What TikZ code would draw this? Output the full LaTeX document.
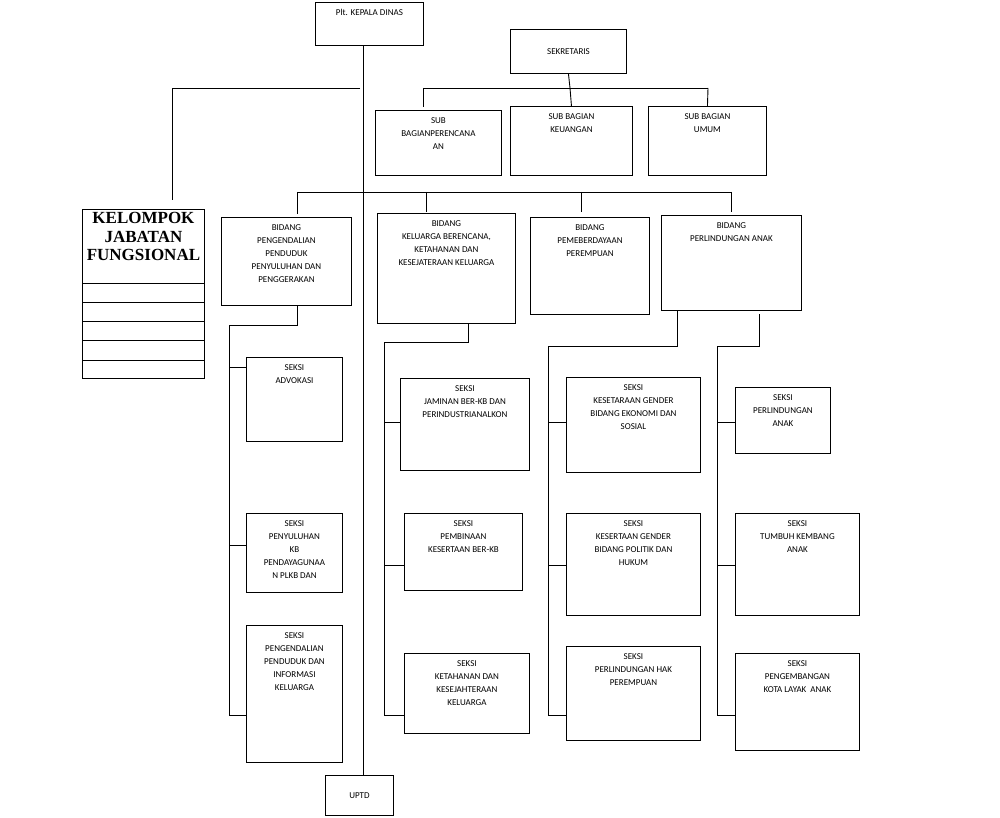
\documentclass[tikz,border=0pt]{standalone}
\usepackage{fontspec}
\setmainfont{Carlito}
\newfontfamily\tnr{Liberation Serif}
\begin{document}
\begin{tikzpicture}[x=1pt,y=-1pt,line width=0.9pt,
  txt/.style={anchor=north,align=center,font=\fontsize{9}{13}\selectfont,inner sep=0pt}]
\useasboundingbox (0,0) rectangle (1000,818);
\newcommand\bx[6]{\node[draw,inner sep=0pt,anchor=north west,minimum width=#4-#2,minimum height=#5-#3] (#1) at (#2,#3) {};
  \node[txt] (#1-t) at ([yshift=-7pt]#1.north) {#6};}
\bx{kd}{315}{2}{423}{45}{Plt. KEPALA DINAS}
\bx{uptd}{325}{775}{393}{815}{}
\node[font=\fontsize{9}{13}\selectfont] at (uptd.center) {UPTD};
\bx{sek}{510}{29}{626}{73}{}
\node[font=\fontsize{9}{13}\selectfont] at (sek.center) {SEKRETARIS};
\bx{sp}{375}{110}{501}{175}{SUB\\BAGIANPERENCANA\\AN}
\bx{sk}{510}{106}{632}{175}{SUB BAGIAN\\KEUANGAN}
\bx{su}{648}{106}{766}{175}{SUB BAGIAN\\UMUM}
\node[draw,inner sep=0pt,anchor=north west,minimum width=122,minimum height=169] (kjf) at (82,209) {};
\node[anchor=north,align=center,font=\tnr\bfseries\fontsize{17}{18.5}\selectfont,inner sep=0pt] at ([yshift=-3pt]kjf.north) {KELOMPOK\\JABATAN\\FUNGSIONAL};
\foreach \y in {283,302,321,340,360} \draw (82,\y) -- (204,\y);
\bx{b1}{221}{217}{351}{305}{BIDANG\\PENGENDALIAN\\PENDUDUK\\PENYULUHAN DAN\\PENGGERAKAN}
\bx{b2}{377}{213}{515}{323}{BIDANG\\KELUARGA BERENCANA,\\KETAHANAN DAN\\KESEJATERAAN KELUARGA}
\bx{b3}{530}{217}{649}{314}{BIDANG\\PEMEBERDAYAAN\\PEREMPUAN}
\bx{b4}{661}{215}{801}{310}{BIDANG\\PERLINDUNGAN ANAK}
\bx{s11}{246}{357}{342}{441}{SEKSI\\ADVOKASI}
\bx{s12}{246}{513}{342}{592}{SEKSI\\PENYULUHAN\\KB\\PENDAYAGUNAA\\N PLKB DAN}
\bx{s13}{246}{625}{342}{762}{SEKSI\\PENGENDALIAN\\PENDUDUK DAN\\INFORMASI\\KELUARGA}
\bx{s21}{400}{378}{529}{470}{SEKSI\\JAMINAN BER-KB DAN\\PERINDUSTRIANALKON}
\bx{s22}{404}{513}{522}{590}{SEKSI\\PEMBINAAN\\KESERTAAN BER-KB}
\bx{s23}{404}{653}{529}{733}{SEKSI\\KETAHANAN DAN\\KESEJAHTERAAN\\KELUARGA}
\bx{s41}{566}{377}{700}{472}{SEKSI\\KESETARAAN GENDER\\BIDANG EKONOMI DAN\\SOSIAL}
\bx{s42}{566}{513}{700}{615}{SEKSI\\KESERTAAN GENDER\\BIDANG POLITIK DAN\\HUKUM}
\bx{s43}{566}{646}{700}{740}{SEKSI\\PERLINDUNGAN HAK\\PEREMPUAN}
\bx{s51}{735}{387}{830}{453}{SEKSI\\PERLINDUNGAN\\ANAK}
\bx{s52}{735}{513}{859}{615}{SEKSI\\TUMBUH KEMBANG\\ANAK}
\bx{s53}{735}{653}{859}{750}{SEKSI\\PENGEMBANGAN\\KOTA LAYAK\ \ ANAK}
% main
\draw (kd.south) ++(-6,0) coordinate (m0) -- (m0 |- uptd.north);
\draw (360,88) -| (172,200);
\draw (sek.south) -- (570,88);
\draw (423,88) -- (708,88);
\draw (423,88) -- (423,107); \draw (570,88) -- (sk.north); \draw (708,88) -- (su.north);
\draw (297,192) -- (731,192);
\draw (297,192) -- (297,214); \draw (426,192) -- (426,212); \draw (581,192) -- (581,212); \draw (731,192) -- (731,212);
% bidang 1
\draw (297,305) -- (297,325) -| (229,715);
\draw (229,367) -- (s11.west |- 0,367); \draw (229,545) -- (246,545); \draw (229,715) -- (246,715);
% bidang 2
\draw (468,323) -- (468,342) -| (384,715);
\draw (384,422) -- (400,422); \draw (384,565) -- (404,565); \draw (384,715) -- (404,715);
% bidang 4
\draw (677,310) -- (677,346) -| (548,715);
\draw (548,422) -- (566,422); \draw (548,565) -- (566,565); \draw (548,715) -- (566,715);
\draw (759,314) -- (759,346) -| (717,715);
\draw (717,422) -- (735,422); \draw (717,565) -- (735,565); \draw (717,715) -- (735,715);
\end{tikzpicture}
\end{document}
